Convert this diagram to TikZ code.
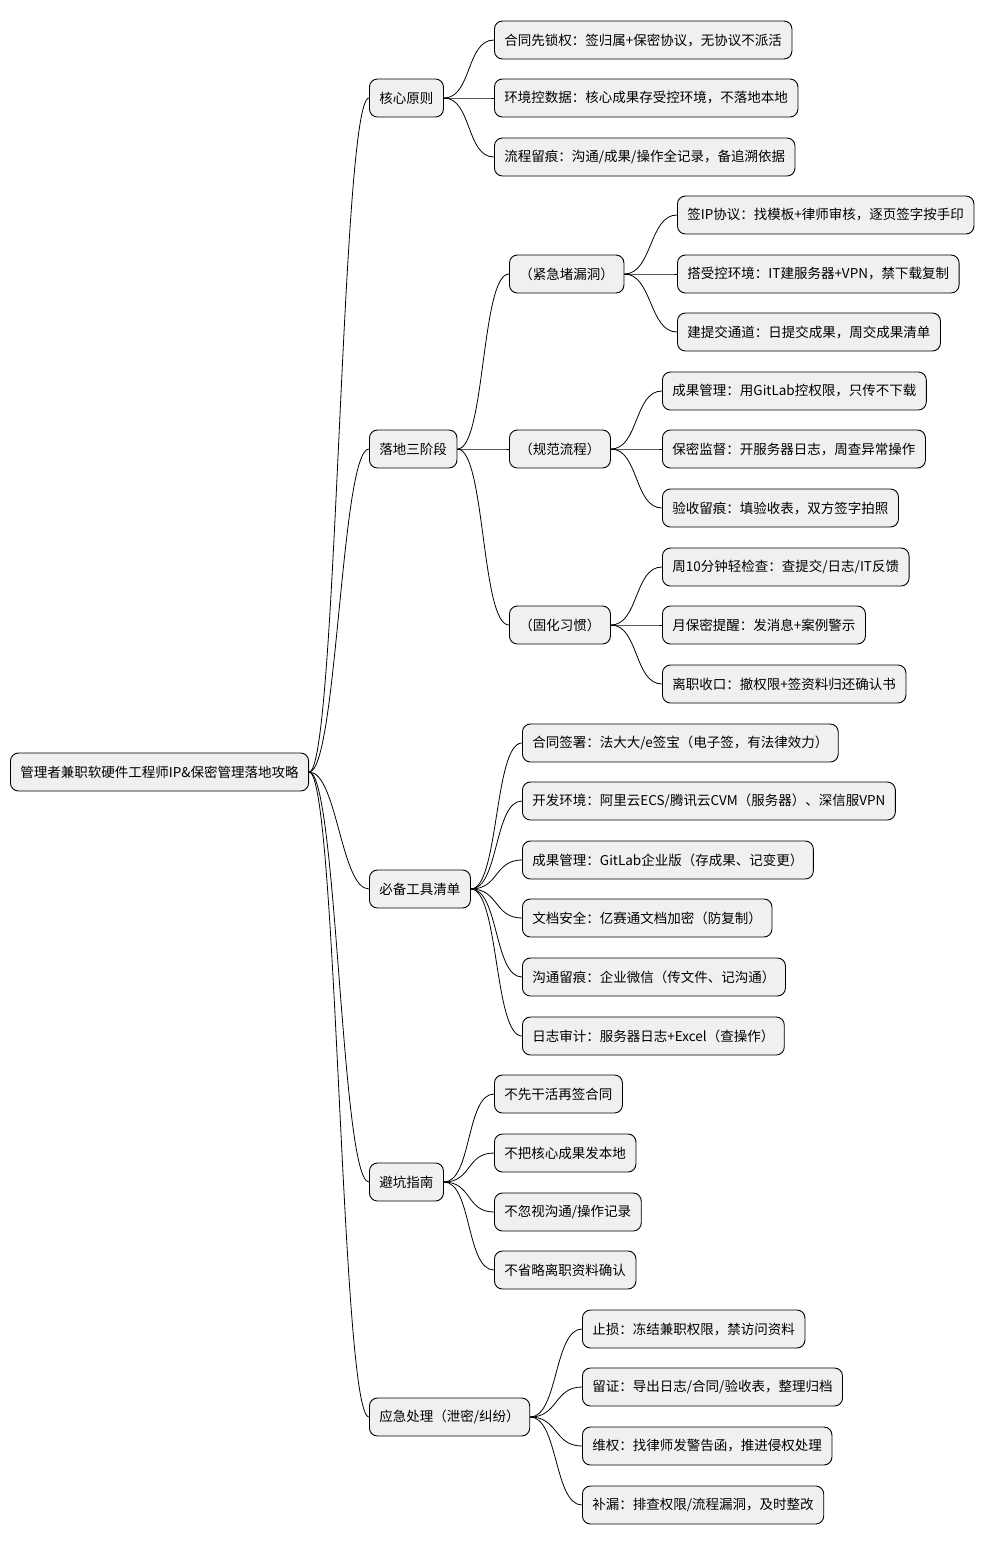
\documentclass[tikz,border=0pt]{standalone}
\usepackage{fontspec}
\setmainfont{Liberation Sans}
\newfontfamily\cjk{Noto Sans CJK SC}
\begin{document}
\begin{tikzpicture}[x=1pt,y=-1pt,
  box/.style={draw=black,fill=black!6,rounded corners=8pt,line width=0.9pt,minimum height=38pt,inner xsep=10pt,anchor=west,font=\cjk\fontsize{13.5}{16}\selectfont},
  lnk/.style={line width=0.8pt}]
\useasboundingbox (0,0) rectangle (994,1545);
\node[box] (r) at (10,772) {管理者兼职软硬件工程师IP\&保密管理落地攻略};
\node[box] (a) at (369,98) {核心原则};
\node[box] (b) at (369,449) {落地三阶段};
\node[box] (c) at (369,889) {必备工具清单};
\node[box] (d) at (369,1182) {避坑指南};
\node[box] (e) at (369,1417) {应急处理（泄密/纠纷）};
\node[box] (a1) at (494,40) {合同先锁权：签归属+保密协议，无协议不派活};
\node[box] (a2) at (494,98) {环境控数据：核心成果存受控环境，不落地本地};
\node[box] (a3) at (494,157) {流程留痕：沟通/成果/操作全记录，备追溯依据};
\node[box] (b1) at (509,274) {（紧急堵漏洞）};
\node[box] (b2) at (509,449) {（规范流程）};
\node[box] (b3) at (509,625) {（固化习惯）};
\node[box] (b11) at (677,215) {签IP协议：找模板+律师审核，逐页签字按手印};
\node[box] (b12) at (677,274) {搭受控环境：IT建服务器+VPN，禁下载复制};
\node[box] (b13) at (677,332) {建提交通道：日提交成果，周交成果清单};
\node[box] (b21) at (662,391) {成果管理：用GitLab控权限，只传不下载};
\node[box] (b22) at (662,449) {保密监督：开服务器日志，周查异常操作};
\node[box] (b23) at (662,508) {验收留痕：填验收表，双方签字拍照};
\node[box] (b31) at (662,567) {周10分钟轻检查：查提交/日志/IT反馈};
\node[box] (b32) at (662,625) {月保密提醒：发消息+案例警示};
\node[box] (b33) at (662,684) {离职收口：撤权限+签资料归还确认书};
\node[box] (c1) at (522,743) {合同签署：法大大/e签宝（电子签，有法律效力）};
\node[box] (c2) at (522,801) {开发环境：阿里云ECS/腾讯云CVM（服务器）、深信服VPN};
\node[box] (c3) at (522,860) {成果管理：GitLab企业版（存成果、记变更）};
\node[box] (c4) at (522,918) {文档安全：亿赛通文档加密（防复制）};
\node[box] (c5) at (522,977) {沟通留痕：企业微信（传文件、记沟通）};
\node[box] (c6) at (522,1036) {日志审计：服务器日志+Excel（查操作）};
\node[box] (d1) at (494,1094) {不先干活再签合同};
\node[box] (d2) at (494,1153) {不把核心成果发本地};
\node[box] (d3) at (494,1212) {不忽视沟通/操作记录};
\node[box] (d4) at (494,1270) {不省略离职资料确认};
\node[box] (e1) at (582,1329) {止损：冻结兼职权限，禁访问资料};
\node[box] (e2) at (582,1387) {留证：导出日志/合同/验收表，整理归档};
\node[box] (e3) at (582,1446) {维权：找律师发警告函，推进侵权处理};
\node[box] (e4) at (582,1505) {补漏：排查权限/流程漏洞，及时整改};
\foreach \p/\c in {r/a,r/b,r/c,r/d,r/e,a/a1,a/a2,a/a3,b/b1,b/b2,b/b3,
  b1/b11,b1/b12,b1/b13,b2/b21,b2/b22,b2/b23,b3/b31,b3/b32,b3/b33,
  c/c1,c/c2,c/c3,c/c4,c/c5,c/c6,d/d1,d/d2,d/d3,d/d4,e/e1,e/e2,e/e3,e/e4}
  \draw[lnk] (\p.east) .. controls ([xshift=28pt]\p.east) and ([xshift=-28pt]\c.west) .. (\c.west);
\end{tikzpicture}
\end{document}
